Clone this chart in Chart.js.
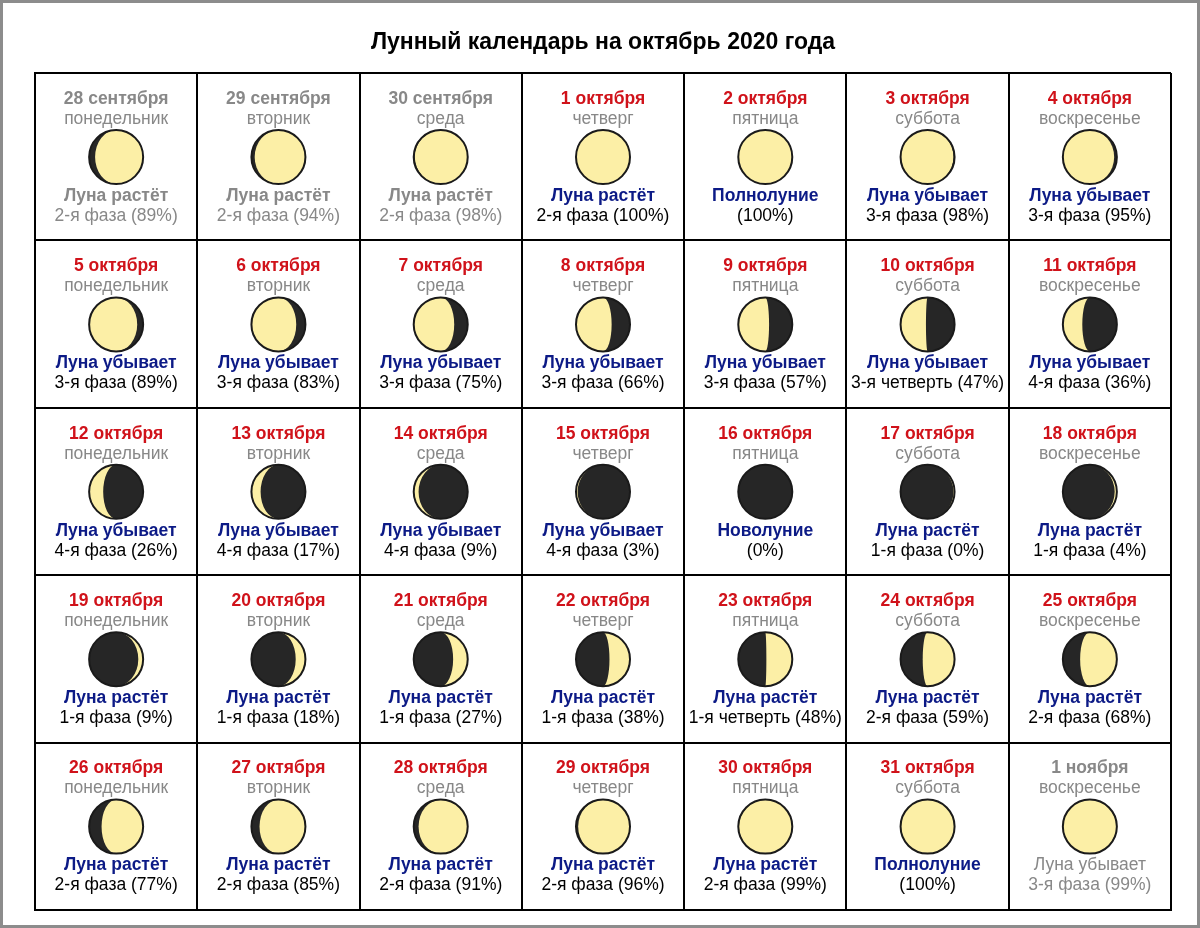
<!DOCTYPE html>
<html><head><meta charset="utf-8">
<script src="https://cdn.jsdelivr.net/npm/chart.js@4"></script>
<style>
  body { margin: 0; background: #fff; }
  #wrap { width: 1200px; height: 928px; box-sizing: border-box; border: 3px solid #8c8c8c; background: #fff; }
</style>
</head><body>
<div id="wrap"><canvas id="moon" width="1194" height="922"></canvas></div>
<script>
// ── DATA ───────────────────────────────────────────────────────────────────
const title = 'Лунный календарь на октябрь 2020 года';
const dates = [
  '28 сентября', '29 сентября', '30 сентября', '1 октября', '2 октября', '3 октября', '4 октября',
  '5 октября', '6 октября', '7 октября', '8 октября', '9 октября', '10 октября', '11 октября',
  '12 октября', '13 октября', '14 октября', '15 октября', '16 октября', '17 октября', '18 октября',
  '19 октября', '20 октября', '21 октября', '22 октября', '23 октября', '24 октября', '25 октября',
  '26 октября', '27 октября', '28 октября', '29 октября', '30 октября', '31 октября', '1 ноября',
];
const weekdays = ['понедельник', 'вторник', 'среда', 'четверг', 'пятница', 'суббота', 'воскресенье'];
const statuses = [
  'Луна растёт', 'Луна растёт', 'Луна растёт', 'Луна растёт', 'Полнолуние', 'Луна убывает', 'Луна убывает',
  'Луна убывает', 'Луна убывает', 'Луна убывает', 'Луна убывает', 'Луна убывает', 'Луна убывает', 'Луна убывает',
  'Луна убывает', 'Луна убывает', 'Луна убывает', 'Луна убывает', 'Новолуние', 'Луна растёт', 'Луна растёт',
  'Луна растёт', 'Луна растёт', 'Луна растёт', 'Луна растёт', 'Луна растёт', 'Луна растёт', 'Луна растёт',
  'Луна растёт', 'Луна растёт', 'Луна растёт', 'Луна растёт', 'Луна растёт', 'Полнолуние', 'Луна убывает',
];
const phases = [
  '2-я фаза (89%)', '2-я фаза (94%)', '2-я фаза (98%)', '2-я фаза (100%)', '(100%)', '3-я фаза (98%)', '3-я фаза (95%)',
  '3-я фаза (89%)', '3-я фаза (83%)', '3-я фаза (75%)', '3-я фаза (66%)', '3-я фаза (57%)', '3-я четверть (47%)', '4-я фаза (36%)',
  '4-я фаза (26%)', '4-я фаза (17%)', '4-я фаза (9%)', '4-я фаза (3%)', '(0%)', '1-я фаза (0%)', '1-я фаза (4%)',
  '1-я фаза (9%)', '1-я фаза (18%)', '1-я фаза (27%)', '1-я фаза (38%)', '1-я четверть (48%)', '2-я фаза (59%)', '2-я фаза (68%)',
  '2-я фаза (77%)', '2-я фаза (85%)', '2-я фаза (91%)', '2-я фаза (96%)', '2-я фаза (99%)', '(100%)', '3-я фаза (99%)',
];
// lit fraction as drawn
const lit = [
  0.89, 0.94, 0.98, 1, 1, 0.98, 0.95,
  0.89, 0.83, 0.75, 0.66, 0.57, 0.47, 0.36,
  0.26, 0.17, 0.09, 0.03, 0, 0.02, 0.04,
  0.09, 0.18, 0.27, 0.38, 0.48, 0.59, 0.68,
  0.77, 0.85, 0.91, 0.96, 0.99, 1, 0.99,
];
const waxing = [
  1, 1, 1, 1, 1, 0, 0,
  0, 0, 0, 0, 0, 0, 0,
  0, 0, 0, 0, 0, 1, 1,
  1, 1, 1, 1, 1, 1, 1,
  1, 1, 1, 1, 1, 1, 0,
];
const otherMonth = [0, 1, 2, 34];

const points = dates.map((_, i) => ({ x: i % 7, y: Math.floor(i / 7) }));

// ── MOON ───────────────────────────────────────────────────────────────────
function drawMoon(ctx, cx, cy, r, f, wax) {
  const dark = '#262626', light = '#fcefa6';
  ctx.save();
  ctx.beginPath(); ctx.arc(cx, cy, r, 0, Math.PI * 2);
  ctx.fillStyle = dark; ctx.fill();
  if (f > 0) {
    // lit half on the right when waxing, left when waning
    const s = wax ? 1 : -1;
    ctx.beginPath();
    ctx.ellipse(cx, cy, r, r, 0, -Math.PI / 2, Math.PI / 2, s < 0);
    const ex = r * Math.abs(1 - 2 * f);
    ctx.ellipse(cx, cy, ex, r, 0, Math.PI / 2, -Math.PI / 2, f > 0.5 ? s < 0 : s > 0);
    ctx.closePath();
    ctx.fillStyle = light; ctx.fill();
  }
  ctx.beginPath(); ctx.arc(cx, cy, r, 0, Math.PI * 2);
  ctx.lineWidth = 2; ctx.strokeStyle = '#1a1a1a'; ctx.stroke();
  ctx.restore();
}

const FONT = 'px "Liberation Sans", Arial, sans-serif';

const cellsPlugin = {
  id: 'cells',
  afterDatasetsDraw(chart) {
    const { ctx, scales: { x, y } } = chart;
    const rowH = Math.abs(y.getPixelForValue(1) - y.getPixelForValue(0));
    ctx.save();
    ctx.textAlign = 'center'; ctx.textBaseline = 'middle';
    ctx.fillStyle = '#000';
    ctx.font = 'bold 23' + FONT;
    ctx.fillText(title, x.getPixelForValue(3), 40);
    points.forEach((p, i) => {
      const cx = x.getPixelForValue(p.x);
      const top = y.getPixelForValue(p.y) - rowH / 2;
      const grey = otherMonth.includes(i);
      ctx.font = 'bold 17.5' + FONT;
      ctx.fillStyle = grey ? '#888' : '#d0121a';
      ctx.fillText(dates[i], cx, top + 26);
      ctx.font = '17.5' + FONT;
      ctx.fillStyle = '#888';
      ctx.fillText(weekdays[p.x], cx, top + 46);
      drawMoon(ctx, cx, top + 84, 27, lit[i], waxing[i]);
      ctx.font = (i === 34 ? '' : 'bold ') + '17.5' + FONT;
      ctx.fillStyle = grey ? '#888' : '#0c1a86';
      ctx.fillText(statuses[i], cx, top + 123);
      ctx.font = '17.5' + FONT;
      ctx.fillStyle = grey ? '#888' : '#000';
      ctx.fillText(phases[i], cx, top + 143);
    });
    ctx.restore();
  },
};

const halfTicks = (lo, hi) => axis => {
  axis.ticks = [];
  for (let v = lo; v <= hi; v++) axis.ticks.push({ value: v - 0.5 });
};

new Chart(document.getElementById('moon'), {
  type: 'scatter',
  data: { datasets: [{ data: points, pointRadius: 0 }] },
  options: {
    responsive: false,
    animation: false,
    events: [],
    layout: { padding: { left: 32, right: 26, top: 70, bottom: 15 } },
    plugins: { legend: { display: false }, tooltip: { enabled: false } },
    scales: {
      x: {
        min: -0.5, max: 6.5,
        afterBuildTicks: halfTicks(0, 7),
        ticks: { display: false },
        grid: { color: '#000', lineWidth: 2, drawTicks: false },
        border: { color: '#000', width: 2 },
      },
      y: {
        min: -0.5, max: 4.5, reverse: true,
        afterBuildTicks: halfTicks(0, 5),
        ticks: { display: false },
        grid: { color: '#000', lineWidth: 2, drawTicks: false },
        border: { color: '#000', width: 2 },
      },
    },
  },
  plugins: [cellsPlugin],
});
</script>
</body></html>
